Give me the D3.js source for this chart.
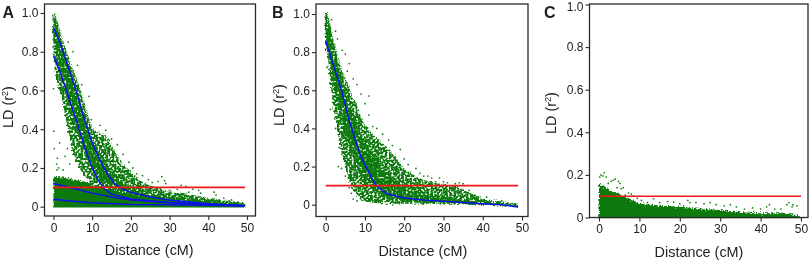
<!DOCTYPE html>
<html><head><meta charset="utf-8">
<style>html,body{margin:0;padding:0;background:#fff}svg{display:block;filter:blur(.3px)}text{font-family:"Liberation Sans",Arial,sans-serif;fill:#222}</style>
<script src="https://cdn.jsdelivr.net/npm/d3@7"></script></head><body><svg id="c" width="812" height="262"></svg>
<script>
const xTicks=[0,10,20,30,40,50], yTicks=[0,0.2,0.4,0.6,0.8,1.0];
const threshold=0.1;
// cloud envelopes: [distance, lower r2, upper r2]
const cloudA=[[0,.80,1.0],[.5,.72,1.0],[1,.63,.96],[2,.58,.89],[3,.47,.82],[4,.37,.77],[5,.29,.71],[6,.23,.66],[7,.19,.6],[8,.16,.54],[9,.14,.47],[10,.12,.41],[11,.11,.39],[12,.1,.38],[14,.08,.36],[16,.07,.28],[18,.06,.22],[20,.05,.18],[22,.045,.14],[25,.04,.11],[30,.03,.08],[35,.025,.065],[40,.02,.045],[45,.015,.03],[49.5,.005,.018]];
const denseA=[[0,.85,1],[1,.78,.95],[2,.7,.86],[4,.55,.72],[6,.4,.6],[8,.28,.47],[10,.18,.34],[14,.1,.22],[18,.07,.12],[25,.04,.065],[49,.005,.015]];
const baseA=[[0,.155],[3,.15],[5,.14],[8,.13],[10,.115],[13,.1],[15,.085],[20,.065],[25,.05],[30,.04],[35,.03],[40,.025],[45,.018],[49.5,.012]];
const cloudB=[[0,.85,1.0],[.5,.78,1.0],[1,.68,.96],[2,.5,.87],[3,.39,.79],[4,.28,.72],[5,.2,.66],[6,.13,.62],[7,.08,.56],[8,.05,.52],[9,.03,.46],[10,.015,.42],[12,.01,.37],[14,.008,.33],[16,.006,.29],[18,.005,.25],[20,.005,.19],[22,.005,.16],[25,.005,.13],[30,.005,.105],[33,.005,.1],[36,.003,.07],[40,0,.03],[45,-.003,.018],[49,-.008,.005]];
const denseB=[[0,.85,1],[1,.78,.95],[2,.64,.85],[4,.45,.68],[6,.3,.55],[8,.2,.42],[10,.12,.33],[14,.05,.2],[18,.015,.12],[25,.01,.06],[35,.005,.03],[49,-.005,.003]];
const baseC=[[0,.16],[1,.15],[3,.125],[5,.11],[8,.085],[10,.065],[13,.06],[15,.055],[20,.05],[25,.04],[30,.035],[35,.025],[40,.02],[45,.02],[49,.012],[50,.005]];
// scattered points at the cloud edges
const pointsA=[[0,.61],[.1,.39],[.2,.3],[.8,.22],[1,.25],[1.3,.2],[1.6,.33],[2.5,.19],[3,.26],[3.6,.3],[.9,.19],[4.2,.22],[6.2,.73],[5,.8],[3.8,.85],[7.3,.63],[9.2,.57],[9.8,.45],[12,.42],[13.5,.395],[15,.35],[16.5,.32],[18,.27],[19.5,.23],[20.5,.2],[21.5,.17],[23,.16],[24.5,.14],[25.5,.125],[27,.13],[28,.155],[28.7,.135],[29,.12],[31,.1],[33,.11],[34.2,.105],[36,.09],[37.5,.085],[38,.07],[41.5,.075],[42,.06],[44,.045],[46,.035],[15,.1],[20,.13],[22,.12],[24,.105],[26,.1],[30,.085],[32,.09],[35,.075]];
const pointsB=[[1.5,.97],[2.5,.91],[3,.87],[4.2,.81],[5,.79],[5.5,.7],[6,.74],[7,.66],[8,.63],[9,.58],[11,.47],[11,.57],[10,.53],[12,.41],[13,.4],[14.5,.37],[16,.34],[17,.31],[19,.29],[20,.24],[21,.21],[23,.19],[24,.165],[25,.15],[26,.15],[27,.14],[28,.12],[29,.14],[30,.12],[31,.115],[32,.09],[33,.11],[34,.115],[35,.11],[36.5,.075],[38,.05],[41,.04],[1.2,.5],[.3,.72],[2.5,.4],[3.4,.3],[3.2,.2],[4,.19],[5,.15],[6,.09],[6.5,.06],[7,.03],[8,.02]];
const pointsC=[[.2,.19],[.5,.2],[1,.195],[1.3,.21],[1.8,.19],[2.3,.16],[3,.17],[3.5,.175],[4,.18],[4.8,.17],[5.2,.16],[4.5,.14],[5.5,.135],[6,.14],[6.5,.105],[7.3,.115],[8,.11],[8.5,.1],[9.5,.09],[10.5,.08],[12,.07],[13.5,.088],[15,.07],[17,.075],[18.5,.072],[20,.065],[22,.08],[22.5,.07],[24,.07],[26,.065],[27.5,.07],[29,.06],[31,.055],[32.5,.06],[34,.05],[36,.04],[38,.045],[40,.04],[41.5,.05],[42.2,.06],[43.5,.04],[45,.04],[46.5,.06],[47,.07],[48,.06],[49,.055],[47.8,.05]];
// fitted curves
const curvesA=[
 [[0,.925],[2,.83],[4,.71],[6,.59],[8,.45],[10,.33],[12,.24],[14,.165],[16,.115],[18,.09],[20,.075],[25,.05],[30,.035],[40,.015],[49.5,.005]],
 [[0,.78],[2,.68],[4,.56],[6,.44],[8,.31],[10,.2],[11.5,.14],[13,.095],[15,.065],[20,.04],[30,.022],[40,.012],[49.5,.005]],
 [[0,.12],[5,.095],[10,.07],[15,.05],[20,.035],[30,.02],[40,.012],[49.5,.005]],
 [[0,.038],[5,.028],[10,.02],[20,.012],[30,.01],[40,.007],[49.5,.004]]];
const curvesB=[[[0,.86],[2,.73],[4,.6],[6,.44],[8,.31],[9,.25],[10,.21],[12,.13],[13,.10],[14,.08],[16,.055],[20,.035],[25,.025],[30,.018],[40,.005],[45,0],[49,-.012]]];
const panels=[
 {label:"A",x0:44.5,x1:255.5,y0:4,y1:216,px:[53.5,247],py:[206.7,13],lx:2.5,ly:18,titleY:255,ldX:-32,ldY:107,cloud:cloudA,dense:denseA,base:baseA,pts:pointsA,curves:curvesA,redEnd:49.5},
 {label:"B",x0:316,x1:528,y0:4,y1:216.5,px:[325.7,522],py:[204.7,14],lx:272,ly:17.5,titleY:256,ldX:-32,ldY:105,cloud:cloudB,dense:denseB,base:null,pts:pointsB,curves:curvesB,redEnd:49},
 {label:"C",x0:589.5,x1:808,y0:4,y1:217.5,px:[599,801],py:[217.5,4.5],lx:544,ly:17.5,titleY:257,ldX:-34,ldY:113,cloud:[],dense:[],base:baseC,pts:pointsC,curves:[],redEnd:50}];

const svg=d3.select("#c");
const G="#0a7a0a";
const defs=svg.append("defs");
function grain(id,seed,matrix){
 const f=defs.append("filter").attr("id",id).attr("filterUnits","userSpaceOnUse").attr("x",0).attr("y",0).attr("width",812).attr("height",262);
 f.append("feTurbulence").attr("type","fractalNoise").attr("baseFrequency",.48).attr("numOctaves",1).attr("seed",seed).attr("result","n");
 f.append("feDisplacementMap").attr("in","SourceGraphic").attr("in2","n").attr("scale",7).attr("xChannelSelector","R").attr("yChannelSelector","G").attr("result","d");
 f.append("feColorMatrix").attr("in","n").attr("type","matrix").attr("values",matrix).attr("result","m");
 f.append("feComposite").attr("in","d").attr("in2","m").attr("operator","in");
}
grain("grain",4,"0 0 0 0 0 0 0 0 0 0 0 0 0 0 0 6 0 0 0 -2.1");
grain("grain2",11,"0 0 0 0 0 0 0 0 0 0 0 0 0 0 0 6 0 0 0 -2.1");
const rough=defs.append("filter").attr("id","rough").attr("filterUnits","userSpaceOnUse").attr("x",0).attr("y",0).attr("width",812).attr("height",262);
rough.append("feTurbulence").attr("type","fractalNoise").attr("baseFrequency",.6).attr("numOctaves",2).attr("seed",7).attr("result","n");
rough.append("feDisplacementMap").attr("in","SourceGraphic").attr("in2","n").attr("scale",6).attr("xChannelSelector","R").attr("yChannelSelector","G");

panels.forEach((p,i)=>{
 const g=svg.append("g");
 const x=d3.scaleLinear().domain([0,50]).range(p.px);
 const y=d3.scaleLinear().domain([0,1]).range(p.py);
 const band=d3.area().x(d=>x(d[0])).y0(d=>y(d[1])).y1(d=>y(d[2]));
 if(p.cloud.length){
  g.append("path").datum(p.cloud).attr("fill",G).attr("filter","url(#grain)").attr("d",band);
  g.append("path").datum(p.dense).attr("fill",G).attr("filter","url(#grain2)").attr("d",band);
 }
 if(p.base){
  defs.append("clipPath").attr("id","clip"+i).append("rect").attr("x",x(0)-.7).attr("y",0).attr("width",x(p.redEnd)-x(0)+1.4).attr("height",y(0)+.7);
  g.append("g").attr("clip-path",`url(#clip${i})`).append("path").datum(p.base).attr("fill",G).attr("filter","url(#rough)")
   .attr("d",d3.area().x(d=>x(d[0])).y0(y(0)+5).y1(d=>y(d[1])));
 }
 g.selectAll("circle").data(p.pts).join("circle").attr("cx",d=>x(d[0])).attr("cy",d=>y(d[1])).attr("r",.85).attr("fill",G);
 const line=d3.line().x(d=>x(d[0])).y(d=>y(d[1]));
 p.curves.forEach(c=>g.append("path").datum(c).attr("fill","none").attr("stroke","#1010e8").attr("stroke-width",1.5).attr("d",line));
 g.append("line").attr("x1",x(0)).attr("x2",x(p.redEnd)).attr("y1",y(threshold)).attr("y2",y(threshold)).attr("stroke","#f01818").attr("stroke-width",1.6);
 g.append("rect").attr("x",p.x0).attr("y",p.y0).attr("width",p.x1-p.x0).attr("height",p.y1-p.y0).attr("fill","none").attr("stroke","#2a2a2a").attr("stroke-width",1.3);
 const ax=g.append("g").attr("transform",`translate(0,${p.y1})`).call(d3.axisBottom(x).tickValues(xTicks).tickSize(4).tickPadding(3).tickFormat(d3.format("d")));
 const ay=g.append("g").attr("transform",`translate(${p.x0},0)`).call(d3.axisLeft(y).tickValues(yTicks).tickSize(4).tickPadding(2).tickFormat(d=>d===0?"0":d3.format(".1f")(d)));
 [ax,ay].forEach(a=>{a.select(".domain").remove();a.selectAll("line").attr("stroke","#2a2a2a").attr("stroke-width",1.1);a.selectAll("text").attr("font-size",12).attr("font-family",'"Liberation Sans",Arial,sans-serif').attr("fill","#222");});
 if(p.label==="C") ay.selectAll(".tick").filter(d=>d===1).select("text").attr("y",1.8);
 const cx=(p.px[0]+p.px[1])/2-1;
 g.append("text").attr("x",cx).attr("y",p.titleY).attr("text-anchor","middle").attr("font-size",14.4).text("Distance (cM)");
 const t=g.append("text").attr("transform",`translate(${p.x0+p.ldX},${p.ldY}) rotate(-90)`).attr("text-anchor","middle").attr("font-size",14.4);
 t.append("tspan").text("LD (r");
 t.append("tspan").attr("font-size",9).attr("dy",-5).text("2");
 t.append("tspan").attr("dy",5).text(")");
 g.append("text").attr("x",p.lx).attr("y",p.ly).attr("font-size",16).attr("font-weight","bold").attr("fill","#111").text(p.label);
});
</script></body></html>
